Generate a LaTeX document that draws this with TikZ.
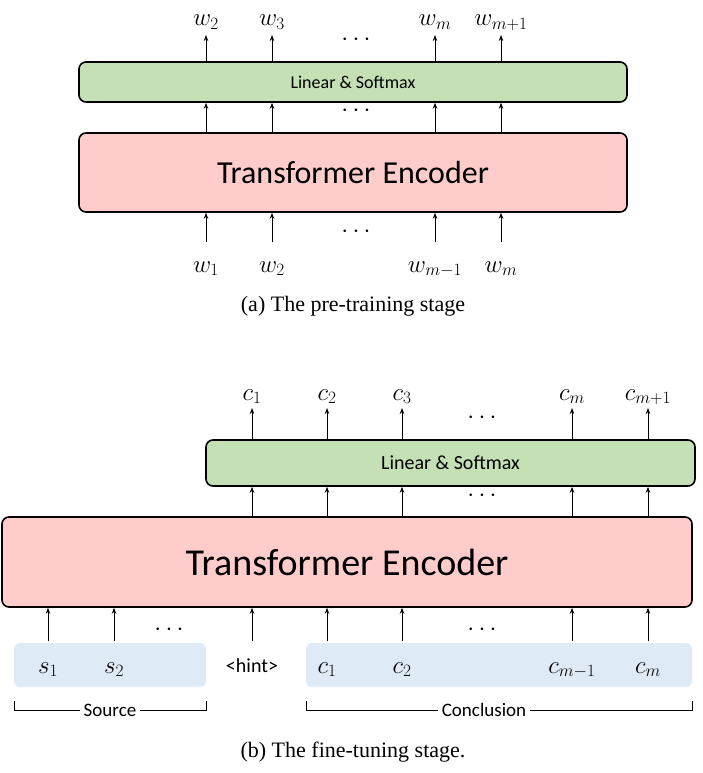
\documentclass[tikz,border=0pt]{standalone}
\usepackage{fontspec}
\setmainfont{Liberation Serif}
\newfontfamily\calfont{Carlito}
\usetikzlibrary{arrows.meta}
\definecolor{gfill}{HTML}{C5E0B4}
\definecolor{pfill}{HTML}{FFCCCC}
\definecolor{bfill}{HTML}{DEEBF7}
\tikzset{
 arr/.style={-{Stealth[length=6pt,width=4.5pt]},line width=0.9pt},
 lay/.style={draw,line width=1.6pt,rounded corners=7pt},
 lbl/.style={font=\fontsize{24}{28}\selectfont},
 dts/.style={font=\fontsize{26}{28}\selectfont\bfseries},
 captxt/.style={font=\fontsize{22}{26}\selectfont},
}
\begin{document}
\begin{tikzpicture}[x=1pt,y=-1pt]
\useasboundingbox (0,0) rectangle (703,773);
% ---------- (a)
\node[lay,fill=gfill,minimum width=548pt,minimum height=40pt,font=\calfont\fontsize{18}{20}\selectfont] (ga) at (353,82) {Linear \& Softmax};
\node[lay,fill=pfill,minimum width=548pt,minimum height=79pt,font=\calfont\fontsize{32}{36}\selectfont] (pa) at (353,172.5) {Transformer Encoder};
\foreach \x/\i/\o [count=\k] in {206/w_1/w_2,272/w_2/w_3,435/w_{m-1}/w_m,501/w_m/w_{m+1}}{
  \node[lbl,anchor=base] (ia\k) at (\x,272) {$\i$};
  \node[lbl,anchor=base] (oa\k) at (\x,26) {$\o$};
  \coordinate (ta\k) at (\x,35);
  \coordinate (ba\k) at (\x,242);
  \draw[arr] (ga.north -| ta\k) -- (ta\k);
  \draw[arr] (pa.north -| ta\k) -- (ga.south -| ta\k);
  \draw[arr] (ba\k) -- (pa.south -| ba\k);
}
\node[dts] (d1) at (356,40) {$\cdots$};
\node[dts] (d2) at (356,111) {$\cdots$};
\node[dts] (d3) at (356,232) {$\cdots$};
\node[captxt] (capa) at (353,306) {(a) The pre-training stage};
% ---------- (b)
\node[lay,fill=gfill,minimum width=489pt,minimum height=46pt,font=\calfont\fontsize{20}{22}\selectfont] (gb) at (450.5,463) {Linear \& Softmax};
\node[lay,fill=pfill,minimum width=690pt,minimum height=90pt,font=\calfont\fontsize{38}{42}\selectfont] (pb) at (347,562) {Transformer Encoder};
\node[fill=bfill,rounded corners=6pt,minimum width=192pt,minimum height=44pt] (sb) at (110,665) {};
\node[fill=bfill,rounded corners=6pt,minimum width=386pt,minimum height=44pt] (cb) at (499,665) {};
\foreach \x/\o [count=\k] in {252/c_1,327/c_2,402/c_3,572/c_m,648/c_{m+1}}{
  \node[lbl,anchor=base] (ob\k) at (\x,400) {$\o$};
  \coordinate (tb\k) at (\x,408);
  \draw[arr] (gb.north -| tb\k) -- (tb\k);
  \draw[arr] (pb.north -| tb\k) -- (gb.south -| tb\k);
}
\foreach \x/\i [count=\k] in {48/s_1,114/s_2,327/c_1,402/c_2,572/c_{m-1},648/c_m}{
  \node[lbl,anchor=base] (ib\k) at (\x,673) {$\i$};
  \coordinate (bb\k) at (\x,641);
  \draw[arr] (bb\k) -- (pb.south -| bb\k);
}
\node[font=\calfont\fontsize{20}{22}\selectfont,anchor=base] (hint) at (252,672) {<hint>};
\coordinate (bh) at (252,641);
\draw[arr] (bh) -- (pb.south -| bh);
\node[dts] (e1) at (482,418) {$\cdots$};
\node[dts] (e2) at (482,496) {$\cdots$};
\node[dts] (e3) at (169,630) {$\cdots$};
\node[dts] (e4) at (482,630) {$\cdots$};
\node[font=\calfont\fontsize{19}{22}\selectfont,inner sep=4pt] (src) at (110,710) {Source};
\node[font=\calfont\fontsize{19}{22}\selectfont,inner sep=4pt] (con) at (484,710) {Conclusion};
\draw[line width=0.9pt] (src.west) -- (14,710) -- (14,701);
\draw[line width=0.9pt] (src.east) -- (206,710) -- (206,701);
\draw[line width=0.9pt] (con.west) -- (306,710) -- (306,701);
\draw[line width=0.9pt] (con.east) -- (692,710) -- (692,701);
\node[captxt] (capb) at (353,752) {(b) The fine-tuning stage.};
\end{tikzpicture}
\end{document}
